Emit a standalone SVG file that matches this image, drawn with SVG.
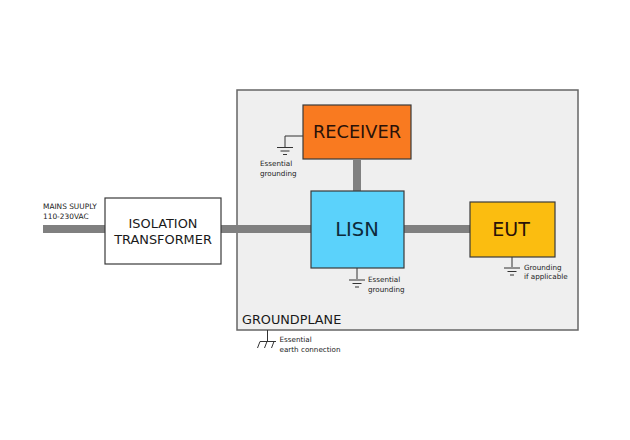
<svg xmlns="http://www.w3.org/2000/svg" width="630" height="440" viewBox="0 0 630 440">
<style>
text{font-family:"DejaVu Sans",Verdana,sans-serif;fill:#1a1a1a}
.b{stroke:#3a3a3a;stroke-width:1.2}
.bus{stroke:#808080;stroke-width:8;fill:none}
.g{stroke:#333;stroke-width:1;fill:none}
.s{font-size:7.200px;fill:#222}
.u{font-size:7.400px;fill:#222}
.m{font-size:12.900px;text-anchor:middle}
.l{text-anchor:middle;fill:#2a1208}
</style>
<rect width="630" height="440" fill="#fff"/>
<g id="groundplane">
<rect x="237" y="90" width="341" height="240" fill="#efefef" stroke="#666" stroke-width="1.500"/>
<text x="242" y="324" font-size="12.800">GROUNDPLANE</text>
<path class="g" d="M267.500 330V341M260 341.500H276M260 341.500L257.500 348M267 341.500L264.500 348M274 341.500L271.500 348"/>
<text class="s" x="279.500" y="342">Essential</text>
<text class="s" x="279.500" y="351.500">earth connection</text>
</g>
<g id="connectors">
<path class="bus" d="M43 229H105"/>
<path class="bus" d="M221 229H311"/>
<path class="bus" d="M404 229H470"/>
<path class="bus" d="M357 160V191"/>
<path class="g" d="M303 136H285V147M277 147.500H293M280.500 151H289.500M283 154.500H287"/>
<path class="g" d="M357 268V279M349 280H365M352.500 283.500H361.500M355 287H359"/>
<path class="g" d="M512 257V267M504 268H520M507.500 271.500H516.500M510 275H514"/>
</g>
<g id="mains">
<text class="u" x="43" y="209">MAINS SUUPLY</text>
<text class="u" x="43" y="219">110-230VAC</text>
</g>
<g id="isolation-transformer">
<rect class="b" x="105" y="198" width="116" height="66" fill="#fff"/>
<text class="m" x="163" y="228">ISOLATION</text>
<text class="m" x="163" y="244">TRANSFORMER</text>
</g>
<g id="receiver">
<rect class="b" x="303" y="105" width="108" height="54" fill="#f97a20"/>
<text class="l" x="357" y="138" font-size="17.800">RECEIVER</text>
<text class="s" x="260" y="166">Essential</text>
<text class="s" x="260" y="176">grounding</text>
</g>
<g id="lisn">
<rect class="b" x="311" y="191" width="93" height="77" fill="#5bd2fb"/>
<text class="l" x="357" y="236" font-size="19.500" style="fill:#0d2a3a">LISN</text>
<text class="s" x="368" y="282">Essential</text>
<text class="s" x="368" y="292">grounding</text>
</g>
<g id="eut">
<rect class="b" x="470" y="202" width="85" height="55" fill="#fbbd10"/>
<text class="l" x="511" y="236" font-size="19">EUT</text>
<text class="s" x="524" y="270">Grounding</text>
<text class="s" x="524" y="279">if applicable</text>
</g>
</svg>
